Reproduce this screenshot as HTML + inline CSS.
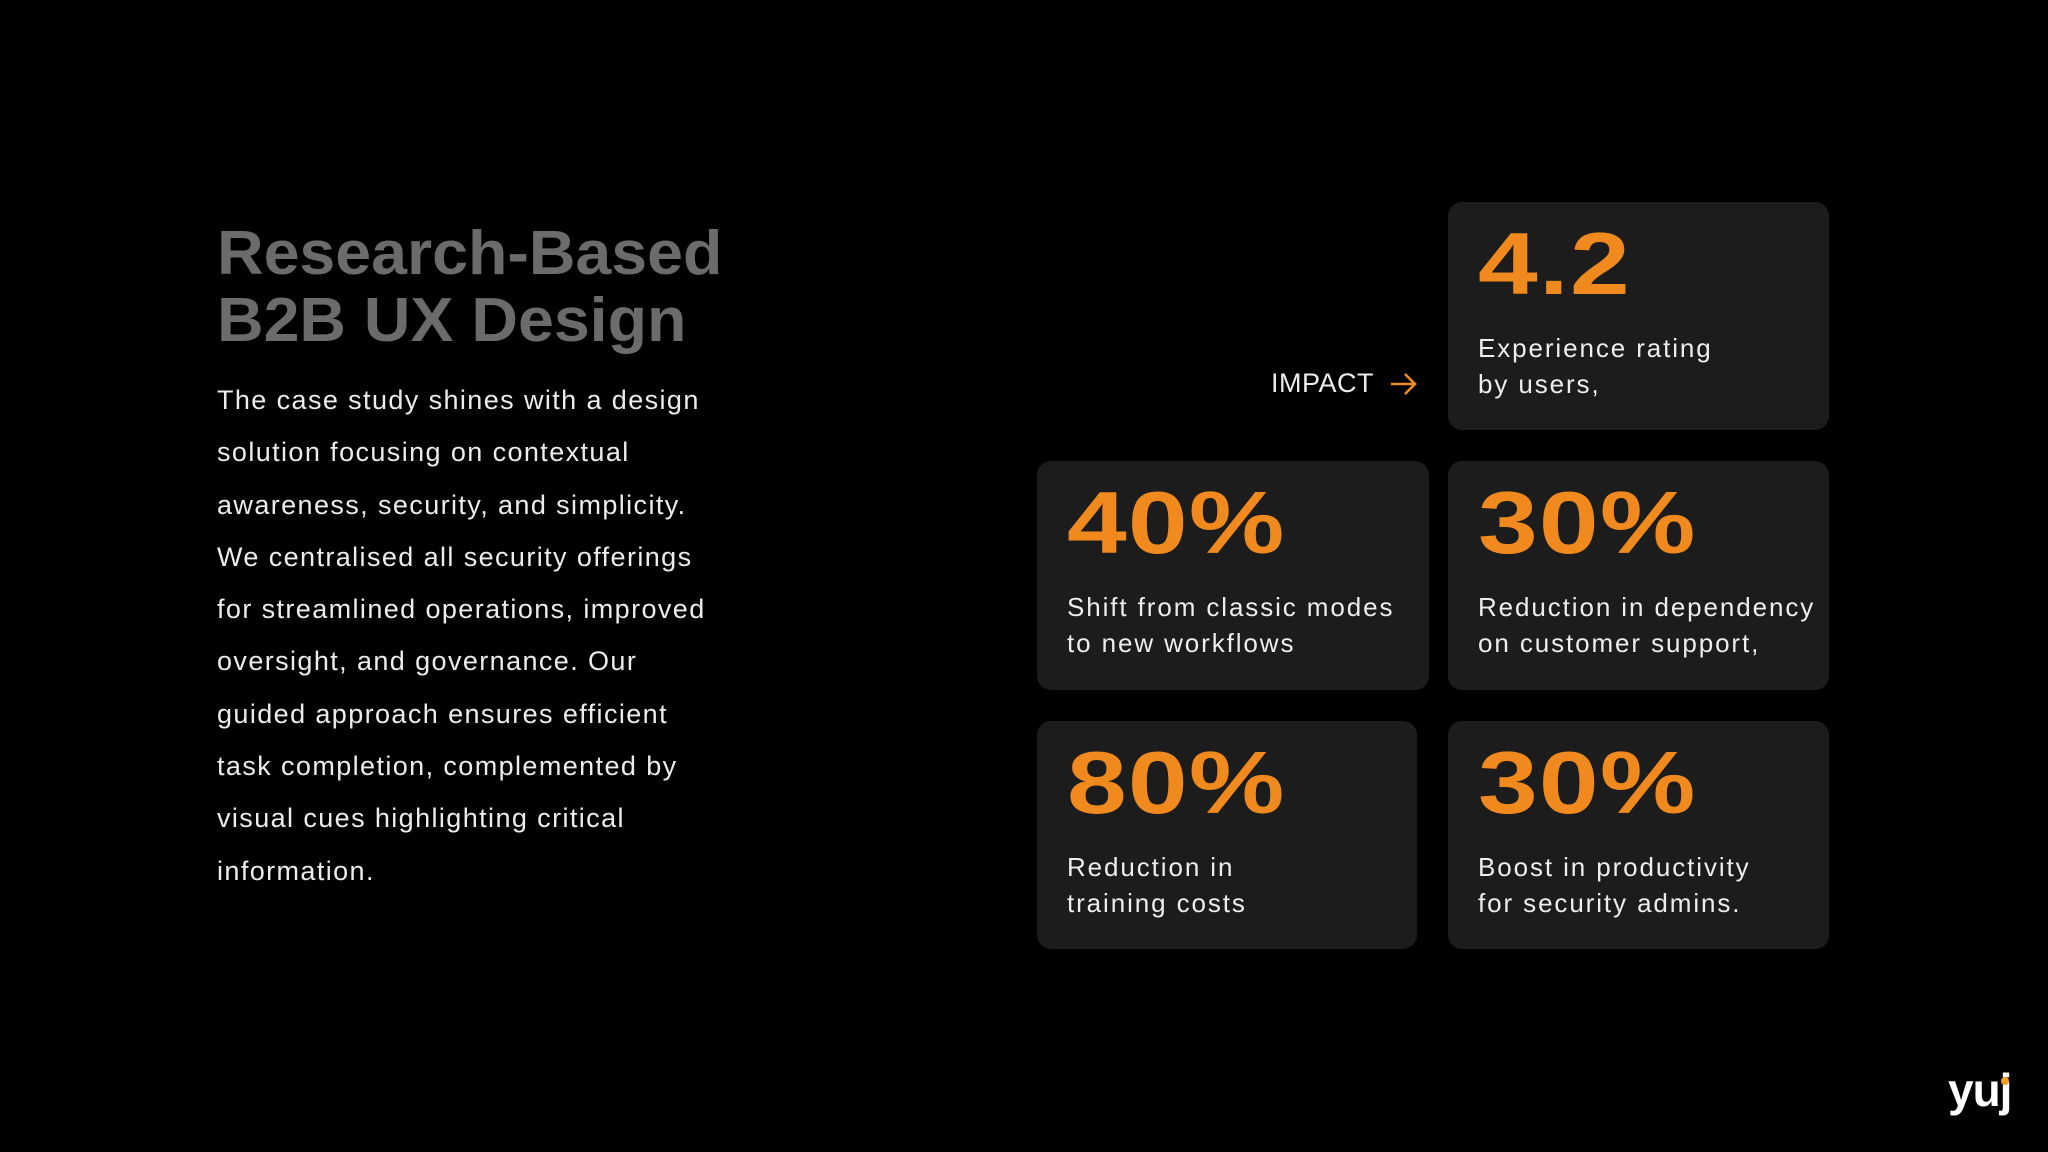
<!DOCTYPE html>
<html><head><meta charset="utf-8"><style>
html,body{margin:0;padding:0;background:#000;}
body{width:2048px;height:1152px;position:relative;overflow:hidden;font-family:"Liberation Sans",sans-serif;}
.abs{position:absolute;}
.title{left:217px;top:220px;font-size:62px;line-height:67px;font-weight:bold;color:#6b6b6b;transform:scaleX(1.04);transform-origin:left;white-space:nowrap;}
.body{left:217px;top:374px;font-size:27px;line-height:52.3px;color:#ececec;white-space:nowrap;letter-spacing:1.4px;}
.card{background:#1c1c1c;border-radius:14px;}
.num{position:absolute;left:30px;top:18px;font-size:88px;line-height:1;font-weight:bold;color:#f08a1e;transform:scaleX(1.22);transform-origin:left;white-space:nowrap;letter-spacing:1px;}
.lbl{position:absolute;left:30px;top:128px;font-size:26px;line-height:36px;color:#ededed;white-space:nowrap;letter-spacing:1.9px;}
</style></head><body>
<div class="abs title">Research-Based<br>B2B UX Design</div>
<div class="abs body">The case study shines with a design<br>solution focusing on contextual<br>awareness, security, and simplicity.<br>We centralised all security offerings<br>for streamlined operations, improved<br>oversight, and governance. Our<br>guided approach ensures efficient<br>task completion, complemented by<br>visual cues highlighting critical<br>information.</div>

<div class="abs" style="left:1271px;top:366px;font-size:27px;line-height:34px;color:#ededed;letter-spacing:0.5px">IMPACT</div>
<svg class="abs" style="left:1389px;top:371px" width="30" height="26"><path d="M2 13 H26 M16 3 L26 13 L16 23" stroke="#f08a1e" stroke-width="2.6" fill="none"/></svg>

<div class="abs card" style="left:1448px;top:202px;width:381px;height:228px">
<div class="num">4.2</div>
<div class="lbl">Experience rating<br>by users,</div></div>

<div class="abs card" style="left:1037px;top:461px;width:392px;height:229px">
<div class="num">40%</div>
<div class="lbl">Shift from classic modes<br>to new workflows</div></div>

<div class="abs card" style="left:1448px;top:461px;width:381px;height:229px">
<div class="num">30%</div>
<div class="lbl">Reduction in dependency<br>on customer support,</div></div>

<div class="abs card" style="left:1037px;top:721px;width:380px;height:228px">
<div class="num">80%</div>
<div class="lbl">Reduction in<br>training costs</div></div>

<div class="abs card" style="left:1448px;top:721px;width:381px;height:228px">
<div class="num">30%</div>
<div class="lbl">Boost in productivity<br>for security admins.</div></div>

<div class="abs" style="left:1948px;top:1064px;font-size:46px;line-height:52px;font-weight:bold;color:#fff;letter-spacing:-1px">yuj</div>
<div class="abs" style="left:2001px;top:1077px;width:8px;height:8px;border-radius:50%;background:#f5a020"></div>
</body></html>
